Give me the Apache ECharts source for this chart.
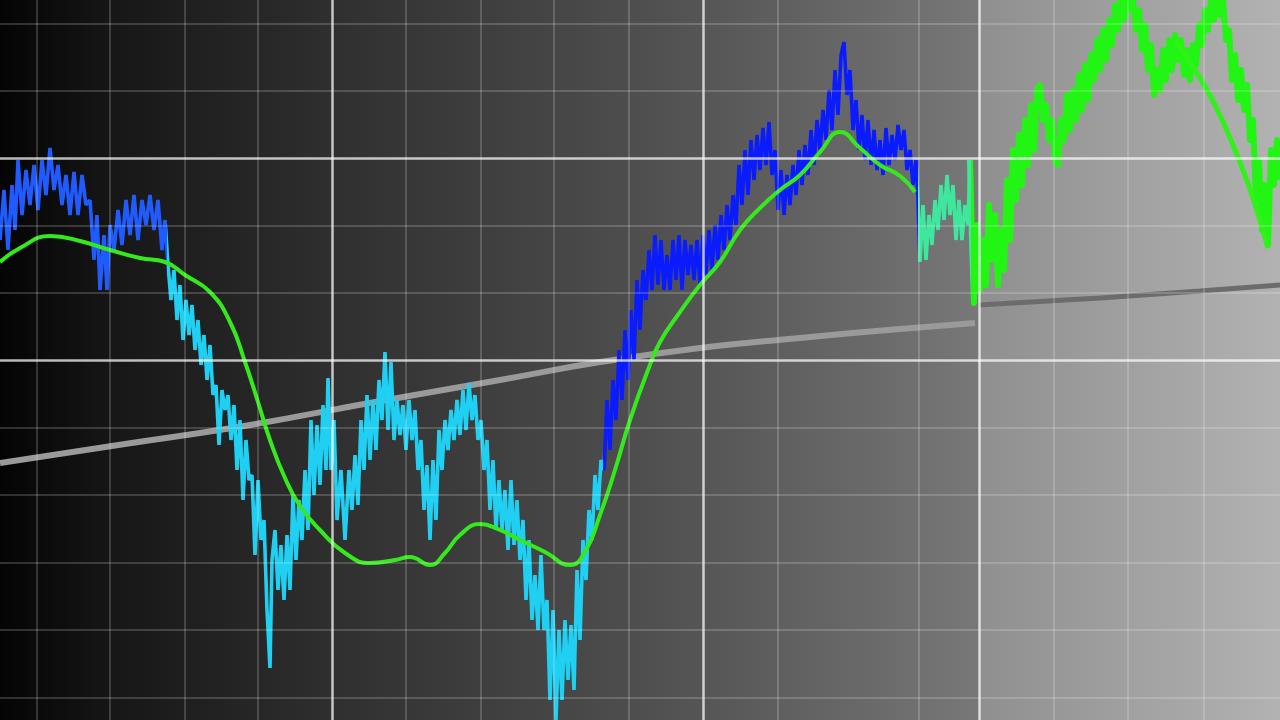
<!DOCTYPE html>
<html><head><meta charset="utf-8">
<script src="https://cdn.jsdelivr.net/npm/echarts@6/dist/echarts.min.js"></script>
<style>html,body{margin:0;padding:0;background:#000}#c{width:1280px;height:720px}</style>
</head><body><div id="c"></div>
<script>
// ---- data (x = time position, y = price position, inverted axis) ----
const panelBreak = [0, 979, 1280];
const gridXMinor = [37,110,185,258,406,481,554,629,778,919,1054,1128,1204];
const gridXMajor = [332,703,979];
const gridYMinor = [24,91,226,293,428,495,563,630,698];
const gridYMajor = [158,360];

const priceMain = [
[0,240],[4,190],[8,250],[12,185],[15,230],[18,160],[22,215],[26,170],[30,205],[34,165],[38,210],[42,160],[46,195],[50,148],[54,190],[58,165],[62,205],[66,175],[70,215],[74,172],[78,215],[82,175],[86,205],[90,200],[94,260],[97,215],[100,290],[104,235],[107,290],[110,225],[114,250],[118,210],[122,245],[126,200],[130,235],[134,195],[138,240],[142,200],[146,225],[150,195],[154,230],[158,200],[162,250],[165,220],
[168,265],[171,300],[174,270],[177,320],[180,285],[183,340],[186,300],[189,335],[192,305],[195,350],[198,320],[201,365],[204,335],[207,380],[210,345],[213,395],[216,385],[219,445],[222,390],[225,410],[228,395],[231,440],[234,405],[237,470],[240,420],[243,500],[246,440],[249,480],[252,475],[255,555],[258,480],[261,540],[264,520],[267,610],[270,668],[272,560],[275,530],[278,590],[281,545],[284,600],[287,535],[290,590],[293,495],[296,560],[299,500],[302,540],[305,470],[308,530],[311,420],[314,495],[317,425],[320,485],[323,405],[326,470],[328,378],[331,470],[334,420],[337,520],[341,470],[345,540],[349,470],[352,510],[355,455],[358,505],[361,420],[364,470],[367,395],[370,460],[373,400],[376,450],[379,380],[382,420],[385,352],[388,430],[391,362],[394,440],[397,400],[400,435],[403,405],[406,450],[409,400],[412,440],[415,410],[418,470],[421,440],[424,510],[427,465],[430,540],[433,460],[436,520],[439,430],[442,470],[445,420],[448,450],[451,410],[454,440],[457,400],[460,435],[463,390],[466,430],[469,383],[472,420],[475,395],[478,440],[481,420],[484,470],[487,440],[490,510],[493,460],[496,530],[499,480],[502,530],[505,490],[508,550],[511,480],[514,545],[517,500],[520,560],[523,520],[526,600],[529,540],[532,620],[535,575],[538,630],[541,555],[544,630],[547,600],[550,700],[553,610],[556,720],[559,630],[562,700],[565,620],[568,680],[571,625],[574,690],[577,570],[580,640],[583,540],[586,580],[589,510],[592,540],[595,475],[598,510],[601,460],
[604,470],[607,400],[610,450],[613,380],[616,420],[619,350],[622,400],[625,330],[628,380],[631,310],[634,360],[637,280],[640,330],[643,270],[646,300],[649,250],[652,290],[655,235],[658,285],[661,240],[664,290],[667,255],[670,290],[673,240],[676,280],[679,235],[682,290],[685,240],[688,275],[691,245],[694,280],[697,240],[700,285],[703,235],[706,275],[709,230],[712,270],[715,225],[718,260],[721,215],[724,250],[727,205],[730,240],[733,195],[736,225],[739,165],[742,205],[745,150],[748,195],[751,140],[754,180],[757,135],[760,170],[763,128],[766,165],[769,122],[772,175],[775,150],[778,210],[781,170],[784,215],[787,175],[790,205],[793,165],[796,195],[799,150],[802,185],[805,145],[808,175],[811,130],[814,165],[817,120],[820,150],[823,110],[826,140],[829,90],[832,130],[835,70],[838,115],[841,55],[844,42],[847,95],[850,70],[853,130],[856,100],[859,150],[862,115],[865,160],[868,120],[871,165],[874,130],[877,170],[880,140],[883,175],[886,128],[889,165],[892,135],[895,160],[898,125],[901,150],[904,130],[907,170],[910,150],[913,185],[916,160],
[918,200],[920,262],[923,205],[926,260],[929,215],[932,245],[935,200],[938,230],[941,185],[944,220],[947,175],[950,215],[953,185],[956,240],[959,200],[962,240],[965,205],[968,225],[970,160]
];
const priceRight = [
[970,160],[972,240],[974,303],[977,225],[980,290],[983,240],[986,285],[989,205],[992,260],[995,215],[998,285],[1001,230],[1004,270],[1007,180],[1010,240],[1013,150],[1016,200],[1019,135],[1022,185],[1025,120],[1028,165],[1031,105],[1034,150],[1037,90],[1040,85],[1043,120],[1046,105],[1049,140],[1052,120],[1055,160],[1058,165],[1061,120],[1064,140],[1067,95],[1070,130],[1073,90],[1076,120],[1079,75],[1082,110],[1085,65],[1088,100],[1091,55],[1094,80],[1097,40],[1100,70],[1103,30],[1106,60],[1109,20],[1112,45],[1115,5],[1118,30],[1121,0],[1124,20],[1127,0],[1130,10],[1133,0],[1136,30],[1139,10],[1142,50],[1145,25],[1148,70],[1151,45],[1154,95],[1157,70],[1160,90],[1163,50],[1166,80],[1169,40],[1172,70],[1175,35],[1178,60],[1181,40],[1184,75],[1187,50],[1190,80],[1193,45],[1196,65],[1199,25],[1202,45],[1205,10],[1208,30],[1211,0],[1214,20],[1217,0],[1220,15],[1223,0],[1226,40],[1229,30],[1232,80],[1235,55],[1238,100],[1241,70],[1244,110],[1247,85],[1250,140],[1253,120],[1256,200],[1259,160],[1262,230],[1265,185],[1268,245],[1271,150],[1274,185],[1277,140],[1280,180]
];

const movingAvg = [
[0,262],[20,248],[50,236],[80,241],[110,250],[140,258],[165,262],[185,275],[210,292],[230,322],[245,362],[258,402],[270,440],[285,478],[300,506],[320,530],[345,553],[370,563],[395,560],[410,557],[430,565],[445,553],[460,535],[480,524],[500,530],[520,540],[545,552],[570,565],[585,552],[600,515],[615,470],[630,420],[648,370],[660,342],[680,312],[700,285],[720,262],[740,230],[760,208],[780,190],[800,175],[820,152],[840,132],[860,148],[880,165],[900,176],[915,192]
];
const movingAvgRight = [
[1175,40],[1195,70],[1215,105],[1235,150],[1252,195],[1268,248]
];
const trendLeft = [
[0,463],[125,444],[250,425],[375,402],[500,380],[600,362],[700,348],[800,338],[900,329],[975,323]
];
const trendRight = [
[979,305],[1100,298],[1200,291],[1280,285]
];

// ---- chart ----
const chart = echarts.init(document.getElementById('c'), null, {renderer:'canvas'});
const minorStyle = {color:'rgba(255,255,255,0.24)', width:1.5, type:'solid'};
const majorStyle = {color:'rgba(255,255,255,0.72)', width:2.5, type:'solid'};
const gridLines = [].concat(
  gridXMinor.map(v => ({xAxis:v, lineStyle:minorStyle})),
  gridYMinor.map(v => ({yAxis:v, lineStyle:minorStyle})),
  gridXMajor.map(v => ({xAxis:v, lineStyle:majorStyle})),
  gridYMajor.map(v => ({yAxis:v, lineStyle:majorStyle}))
);
const lin = (stops) => ({type:'linear', x:0, y:0, x2:1, y2:0, colorStops:stops});

chart.setOption({
  animation:false,
  backgroundColor:'#000',
  grid:{left:0,right:0,top:0,bottom:0,containLabel:false},
  xAxis:{type:'value',min:0,max:1280,show:false,splitLine:{show:false}},
  yAxis:{type:'value',min:0,max:720,inverse:true,show:false,splitLine:{show:false}},
  visualMap:{type:'piecewise',show:false,dimension:0,seriesIndex:[3,4],
    pieces:[
      {lt:167,color:'#1f5bff'},
      {gte:167,lt:603,color:'#1fd0f2'},
      {gte:603,lt:918,color:'#0a1cff'},
      {gte:918,lt:971,color:'#3ee69e'},
      {gte:971,color:'#22f514'}
    ]},
  series:[
    {type:'line',z:0,data:[],silent:true,
     markArea:{silent:true,label:{show:false},data:[
       [{xAxis:panelBreak[0],itemStyle:{color:lin([
          {offset:0,color:'#040404'},{offset:0.12,color:'#171717'},{offset:0.34,color:'#2f2f2f'},
          {offset:0.66,color:'#4f4f4f'},{offset:0.9,color:'#6b6b6b'},{offset:1,color:'#787878'}])}},
        {xAxis:panelBreak[1]}],
       [{xAxis:panelBreak[1],itemStyle:{color:lin([
          {offset:0,color:'#8f8f8f'},{offset:1,color:'#b2b2b2'}])}},
        {xAxis:panelBreak[2]}]
     ]}},
    {type:'line',z:1,data:[],silent:true,
     markLine:{silent:true,symbol:['none','none'],label:{show:false},animation:false,data:gridLines}},
    {type:'line',z:2,data:trendLeft,showSymbol:false,smooth:true,silent:true,
     lineStyle:{color:'#9a9a9a',width:6}},
    {type:'line',z:3,data:priceMain,showSymbol:false,silent:true,
     lineStyle:{width:3.6,join:'bevel'}},
    {type:'line',z:3,data:priceRight,showSymbol:false,silent:true,
     lineStyle:{width:6,join:'round'}},
    {type:'line',z:2,data:trendRight,showSymbol:false,silent:true,
     lineStyle:{color:'#6c6c6c',width:5}},
    {type:'line',z:4,data:movingAvg,showSymbol:false,smooth:true,silent:true,
     lineStyle:{color:'#35ea1c',width:4}},
    {type:'line',z:4,data:movingAvgRight,showSymbol:false,smooth:true,silent:true,
     lineStyle:{color:'#2ef218',width:5}}
  ]
});
</script></body></html>
